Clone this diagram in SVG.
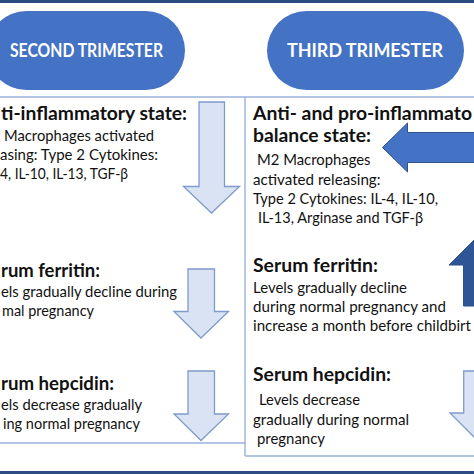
<svg xmlns="http://www.w3.org/2000/svg" width="474" height="474" viewBox="0 0 474 474">
<style>
.bar{fill:#2E4C84}
.pill{fill:#4472C4}
.pilltxt{font-family:Lato,"Liberation Sans",sans-serif;font-weight:bold;font-size:18px;fill:#FFFFFF}
.rule{stroke:#9BB2DA;stroke-width:1.4;fill:none}
.h{font-family:Lato,"Liberation Sans",sans-serif;font-weight:bold;font-size:19.5px;fill:#111111}
.t{font-family:Lato,"Liberation Sans",sans-serif;font-size:15.3px;fill:#111111}
.light{fill:#DAE3F3;stroke:#7F9BCB;stroke-width:1.3}
.dark{fill:#4472C4;stroke:#2F528F;stroke-width:1}
.darker{fill:#2F5597;stroke:#2F528F;stroke-width:1}
</style>
<rect width="474" height="474" fill="#FFFFFF"/>
<rect class="bar" x="0" y="0" width="474" height="3"/>
<rect class="bar" x="0" y="471" width="474" height="3"/>

<g id="header-second">
<rect class="pill" x="-13" y="11" width="198" height="79" rx="39.5"/>
<text class="pilltxt" x="86.5" y="57" text-anchor="middle" textLength="153" lengthAdjust="spacingAndGlyphs">SECOND TRIMESTER</text>
</g>
<g id="header-third">
<rect class="pill" x="267" y="11" width="197" height="79" rx="39.5"/>
<text class="pilltxt" x="365" y="57" text-anchor="middle" textLength="156" lengthAdjust="spacingAndGlyphs">THIRD TRIMESTER</text>
</g>

<g id="connectors">
<line class="rule" x1="0" y1="97" x2="474" y2="97"/>
<line class="rule" x1="245" y1="97" x2="245" y2="456"/>
<line class="rule" x1="0" y1="443" x2="245" y2="443"/>
<line class="rule" x1="245" y1="456" x2="474" y2="456"/>
</g>

<g id="arrows">
<polygon class="light" points="199,102 224.5,102 224.5,186.5 239.5,186.5 211.5,213 183.5,186.5 199,186.5"/>
<polygon class="light" points="188,269 214.5,269 214.5,311.5 228.5,311.5 201,338 174,311.5 188,311.5"/>
<polygon class="light" points="188,371 214.5,371 214.5,414 228.5,414 201,440.5 174,414 188,414"/>
<polygon class="light" points="463.7,371 490.3,371 490.3,413 504,413 477,440 450,413 463.7,413"/>
<polygon class="dark" points="382.5,147.5 407.5,123 407.5,132.5 480,132.5 480,162.5 407.5,162.5 407.5,172"/>
<polygon class="darker" points="474.5,239.5 500,265 485.5,265 485.5,306 463.5,306 463.5,265 449,265"/>
</g>

<g id="second-anti">
<text class="h" x="1" y="120" textLength="186" lengthAdjust="spacingAndGlyphs">ti-inflammatory state:</text>
<text class="t" x="4" y="141" textLength="150" lengthAdjust="spacingAndGlyphs">Macrophages activated</text>
<text class="t" x="0" y="160" textLength="158" lengthAdjust="spacingAndGlyphs">asing: Type 2 Cytokines:</text>
<text class="t" x="0" y="179" textLength="128" lengthAdjust="spacingAndGlyphs">4, IL-10, IL-13, TGF-β</text>
</g>
<g id="second-ferritin">
<text class="h" x="1" y="277" textLength="99" lengthAdjust="spacingAndGlyphs">rum ferritin:</text>
<text class="t" x="1" y="297" textLength="176" lengthAdjust="spacingAndGlyphs">els gradually decline during</text>
<text class="t" x="2" y="316" textLength="92" lengthAdjust="spacingAndGlyphs">mal pregnancy</text>
</g>
<g id="second-hepcidin">
<text class="h" x="1" y="390" textLength="113" lengthAdjust="spacingAndGlyphs">rum hepcidin:</text>
<text class="t" x="1" y="410" textLength="141" lengthAdjust="spacingAndGlyphs">els decrease gradually</text>
<text class="t" x="3" y="429" textLength="137" lengthAdjust="spacingAndGlyphs">ing normal pregnancy</text>
</g>

<g id="third-balance">
<text class="h" x="253" y="120" textLength="219" lengthAdjust="spacingAndGlyphs">Anti- and pro-inflammato</text>
<text class="h" x="253" y="142" textLength="118" lengthAdjust="spacingAndGlyphs">balance state:</text>
<text class="t" x="257" y="165" textLength="113.5" lengthAdjust="spacingAndGlyphs">M2 Macrophages</text>
<text class="t" x="253" y="185" textLength="127.5" lengthAdjust="spacingAndGlyphs">activated releasing:</text>
<text class="t" x="253" y="204" textLength="185" lengthAdjust="spacingAndGlyphs">Type 2 Cytokines: IL-4, IL-10,</text>
<text class="t" x="258" y="223" textLength="165" lengthAdjust="spacingAndGlyphs">IL-13, Arginase and TGF-β</text>
</g>
<g id="third-ferritin">
<text class="h" x="253" y="272" textLength="125" lengthAdjust="spacingAndGlyphs">Serum ferritin:</text>
<text class="t" x="253" y="293" textLength="154" lengthAdjust="spacingAndGlyphs">Levels gradually decline</text>
<text class="t" x="253" y="312" textLength="193" lengthAdjust="spacingAndGlyphs">during normal pregnancy and</text>
<text class="t" x="253" y="331" textLength="218" lengthAdjust="spacingAndGlyphs">increase a month before childbirt</text>
</g>
<g id="third-hepcidin">
<text class="h" x="253" y="381" textLength="138" lengthAdjust="spacingAndGlyphs">Serum hepcidin:</text>
<text class="t" x="259" y="405" textLength="101" lengthAdjust="spacingAndGlyphs">Levels decrease</text>
<text class="t" x="253" y="425" textLength="156" lengthAdjust="spacingAndGlyphs">gradually during normal</text>
<text class="t" x="257" y="444" textLength="68" lengthAdjust="spacingAndGlyphs">pregnancy</text>
</g>
</svg>
